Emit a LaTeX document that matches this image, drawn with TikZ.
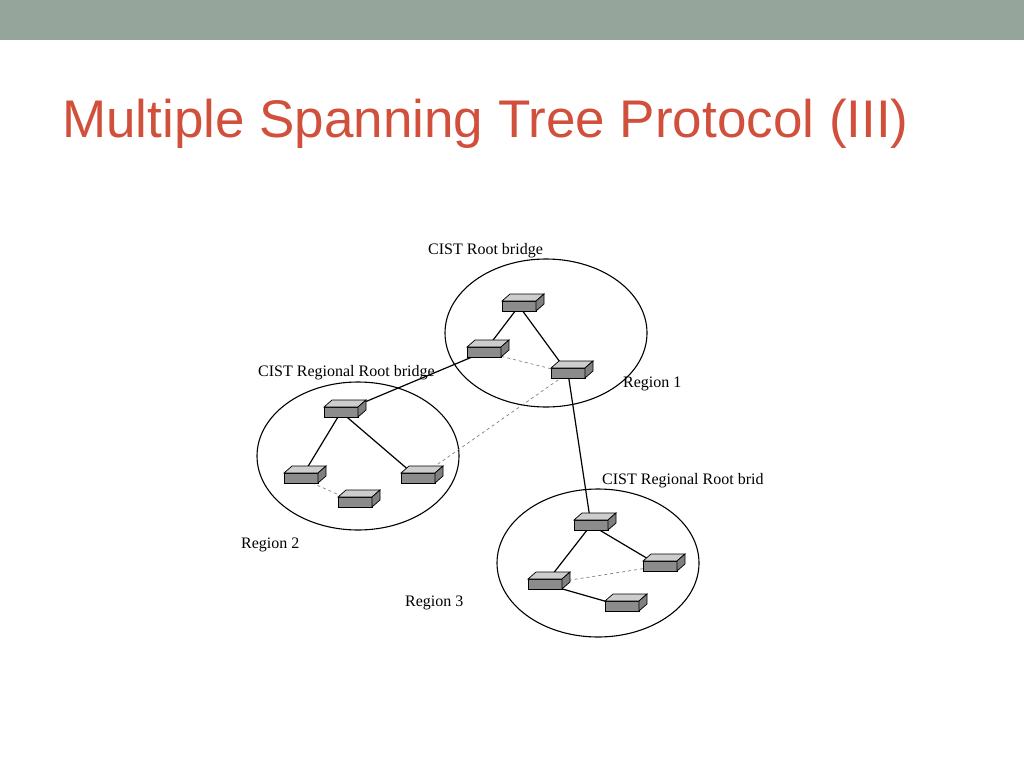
\documentclass[tikz,border=0pt]{standalone}
\usepackage{fontspec}
\usetikzlibrary{shapes.geometric}
\setmainfont{Liberation Serif}
\newfontfamily\titlefont{Liberation Sans}
\definecolor{bar}{RGB}{149,165,156}
\definecolor{ttl}{RGB}{209,80,60}
\definecolor{front}{RGB}{140,140,140}
\definecolor{topc}{RGB}{205,205,205}
\newcommand\swt[2]{%
  \begin{scope}[shift={(#2)}]
  \draw[fill=front,line width=0.7pt] (-17,-5) rectangle (17,5);
  \draw[fill=topc,line width=0.7pt] (-17,-5) -- (-9,-12) -- (25,-12) -- (17,-5) -- cycle;
  \draw[fill=gray,line width=0.7pt] (17,-5) -- (25,-12) -- (25,-2) -- (17,5) -- cycle;
  \end{scope}
  \coordinate (#1) at (#2);}
\tikzset{lnk/.style={line width=1.2pt},blk/.style={gray,dashed,line width=0.7pt},
  lbl/.style={font=\fontsize{16}{18}\selectfont,inner sep=0pt},
  reg/.style={draw,line width=1.1pt}}
\begin{document}
\begin{tikzpicture}[x=1pt,y=-1pt]
\useasboundingbox (0,0) rectangle (1024,768);
\fill[bar] (0,0) rectangle (1024,40);
\node[anchor=base west,text=ttl,font=\titlefont\fontsize{53}{56}\selectfont,inner sep=0pt] (title) at (62,137) {Multiple Spanning Tree Protocol (III)};
\node[reg,ellipse,minimum width=202,minimum height=148,inner sep=0] (e1) at (546,333) {};
\node[reg,ellipse,minimum width=202,minimum height=148,inner sep=0] (e2) at (358,456) {};
\node[reg,ellipse,minimum width=202,minimum height=148,inner sep=0] (e3) at (598,563) {};
\coordinate (c1) at (519,306); \coordinate (c2) at (484,352); \coordinate (c3) at (568,373);
\coordinate (c4) at (341,412); \coordinate (c5) at (301,478); \coordinate (c6) at (418,478); \coordinate (c7) at (355,502);
\coordinate (c8) at (591,525); \coordinate (c9) at (660,566); \coordinate (c10) at (545,584); \coordinate (c11) at (622,606);
\draw[lnk] (c2) -- (c1); \draw[lnk] (c1) -- (c3); \draw[blk] (c2) -- (c3);
\draw[lnk] (c2) -- (c4); \draw[blk] (c3) -- (c6); \draw[lnk] (c3) -- (c8);
\draw[lnk] (c4) -- (c5); \draw[lnk] (c4) -- (c6); \draw[blk] (c5) -- (c7);
\draw[lnk] (c8) -- (c10); \draw[lnk] (c8) -- (c9); \draw[blk] (c10) -- (c9); \draw[lnk] (c10) -- (c11);
\swt{s1}{c1}\swt{s2}{c2}\swt{s3}{c3}\swt{s4}{c4}\swt{s5}{c5}\swt{s6}{c6}\swt{s7}{c7}
\swt{s8}{c8}\swt{s9}{c9}\swt{s10}{c10}\swt{s11}{c11}
\node[lbl,anchor=west] (l1) at (428,251) {CIST Root bridge};
\node[lbl,anchor=west] (l2) at (258,373) {CIST Regional Root bridge};
\node[lbl,anchor=west] (l3) at (623,384) {Region 1};
\node[lbl,anchor=west] (l4) at (602,481) {CIST Regional Root brid};
\node[lbl,anchor=west] (l5) at (241,545) {Region 2};
\node[lbl,anchor=west] (l6) at (405,603) {Region 3};
\end{tikzpicture}
\end{document}
